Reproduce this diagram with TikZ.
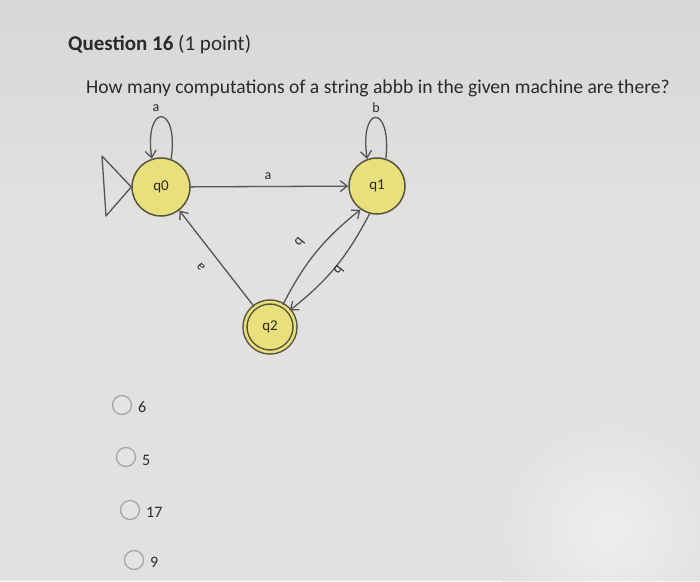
\documentclass[tikz,border=0pt]{standalone}
\usepackage{fontspec}
\setmainfont{Carlito}
\usetikzlibrary{arrows.meta}
\definecolor{bg}{HTML}{E2E1DF}
\definecolor{stfill}{HTML}{E9E07C}
\definecolor{stline}{HTML}{55553F}
\definecolor{edge}{HTML}{555555}
\definecolor{txt}{HTML}{2A2A2A}
\tikzset{
  state/.style={circle,draw=stline,line width=1.5pt,fill=stfill,minimum size=58pt,inner sep=0pt,font=\fontsize{15}{15}\selectfont,text=txt},
  accst/.style={state,double=stfill,double distance=2.5pt,minimum size=50pt},
  tr/.style={draw=edge,line width=1.3pt,-{Straight Barb[length=7pt,width=11pt,line width=1.3pt]}},
  elab/.style={font=\fontsize{14}{14}\selectfont,text=txt,inner sep=1pt},
  radio/.style={circle,draw=gray!70,line width=1.3pt,fill=bg!90!white,minimum size=19pt,inner sep=0pt},
  opt/.style={font=\fontsize{16}{16}\selectfont,text=txt,anchor=west,inner sep=0pt}
}
\begin{document}
\begin{tikzpicture}[x=1pt,y=-1pt]
\useasboundingbox (0,0) rectangle (700,581);
\fill[bg] (0,0) rectangle (700,581);
\shade[top color=bg!92!black,bottom color=bg,opacity=0.5] (0,0) rectangle (700,200);
\shade[inner color=white,outer color=bg,opacity=0.45] (610,530) circle (120);

\node[anchor=base west,inner sep=0pt,text=txt,font=\fontsize{21}{21}\selectfont] (title) at (68,50) {\textbf{Question 16} (1 point)};
\node[anchor=base west,inner sep=0pt,text=txt,font=\fontsize{19.6}{19.6}\selectfont] (qtext) at (86,93) {How many computations of a string abbb in the given machine are there?};

\node[state] (q0) at (161,187) {q0};
\node[state,minimum size=56pt] (q1) at (377,186) {q1};
\node[accst] (q2) at (270,327) {q2};

% initial triangle
\coordinate (i1) at (102,156);
\coordinate (i2) at (106,216);
\draw[draw=edge,line width=1.3pt,line join=round] (i1) -- (q0.west) -- (i2) -- cycle;

% loops
\draw[tr] (q0.70) .. controls +(8,-56) and +(-8,-56) .. (q0.108);
\node[elab] (la0) at (156,108) {a};
\draw[tr] (q1.72) .. controls +(6,-55) and +(-8,-55) .. (q1.110);
\node[elab] (lb1) at (376,108) {b};

% edges
\draw[tr] (q0) -- (q1);
\node[elab] (la01) at (268,176) {a};
\draw[tr] (q2) -- (q0);
\node[elab,rotate=128] (la20) at (201,267) {a};
\draw[tr] (q2.60) to[bend left=12] (q1.235);
\node[elab,rotate=232] (lb21) at (300,242) {b};
\draw[tr] (q1.255) to[bend left=12] (q2.40);
\node[elab,rotate=232] (lb12) at (339,270) {b};

% options
\node[radio] (r1) at (122,405) {};
\node[opt] (o1) at (138,407) {6};
\node[radio] (r2) at (126,457) {};
\node[opt] (o2) at (142,460) {5};
\node[radio] (r3) at (130,510) {};
\node[opt] (o3) at (146,512) {17};
\node[radio] (r4) at (134,560) {};
\node[opt] (o4) at (150,562) {9};
\end{tikzpicture}
\end{document}
